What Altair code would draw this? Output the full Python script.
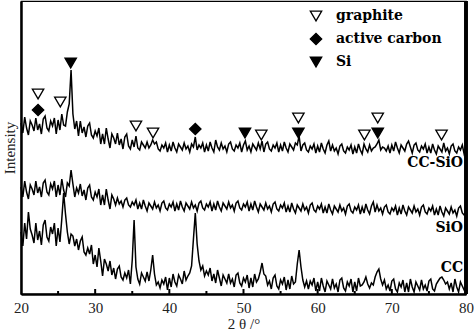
import altair as alt
import pandas as pd

# 2-theta grid: 20.00 .. 80.00, step 0.25
two_theta = [20 + 0.25 * i for i in range(241)]

# Intensity (arbitrary units, curves stacked)
cc_sio = [
    171, 161, 177, 166,  159, 173, 169, 163,  176, 164, 170, 160,  175, 178, 166, 163,
    173, 168, 176, 160,  174, 164, 180, 169,  168, 182, 190, 224,  180, 165, 173, 158,
    173, 161, 167, 157,  168, 171, 159, 156,  163, 158, 166, 150,  160, 150, 166, 155,
    146, 160, 156, 150,  161, 149, 155, 145,  157, 160, 148, 145,  154, 147, 158, 146,
    144, 152, 149, 146,  152, 146, 149, 154,  150, 152, 145, 143,  149, 146, 151, 142,
    149, 143, 152, 146,  142, 150, 147, 144,  151, 145, 148, 142,  150, 147, 157, 144,
    149, 146, 151, 142,  149, 143, 152, 146,  142, 154, 147, 144,  151, 145, 148, 142,
    150, 152, 145, 143,  149, 146, 151, 142,  149, 153, 144, 148,  142, 150, 147, 144,
    151, 145, 153, 142,  150, 152, 145, 143,  149, 146, 151, 142,  149, 143, 152, 146,
    142, 150, 147, 144,  151, 149, 158, 143,  149, 151, 144, 142,  148, 145, 150, 141,
    148, 142, 151, 145,  141, 149, 153, 143,  149, 143, 146, 140,  148, 150, 143, 141,
    147, 144, 149, 140,  147, 141, 150, 144,  140, 150, 145, 142,  149, 143, 146, 147,
    150, 154, 144, 147,  146, 143, 148, 141,  149, 143, 152, 146,  141, 149, 146, 143,
    150, 153, 147, 141,  149, 151, 144, 142,  148, 145, 150, 141,  147, 141, 150, 144,
    140, 148, 145, 142,  151, 143, 146, 140,  148, 150, 143, 141,  147, 144, 149, 140,
    144,
]
sio = [
    107, 97, 113, 102,  95, 109, 105, 99,  113, 101, 107, 97,  111, 114, 102, 99,
    110, 105, 113, 97,  109, 99, 115, 104,  97, 111, 108, 124,  110, 97, 106, 101,
    110, 98, 104, 94,  106, 109, 97, 94,  102, 97, 105, 89,  99, 89, 105, 94,
    85, 99, 95, 89,  96, 90, 93, 87,  94, 96, 89, 87,  92, 89, 94, 85,
    91, 85, 94, 88,  83, 91, 88, 85,  92, 86, 89, 83,  91, 93, 86, 84,
    90, 87, 92, 83,  90, 84, 93, 87,  83, 91, 88, 85,  92, 86, 89, 83,
    91, 93, 86, 84,  90, 87, 92, 83,  90, 84, 93, 87,  83, 91, 88, 85,
    92, 86, 89, 83,  91, 93, 86, 84,  90, 87, 92, 83,  90, 84, 93, 87,
    82, 90, 87, 84,  91, 85, 88, 82,  90, 92, 85, 83,  89, 86, 91, 82,
    88, 82, 91, 85,  81, 89, 86, 83,  90, 84, 87, 81,  89, 91, 84, 82,
    88, 85, 90, 81,  87, 81, 90, 84,  80, 88, 85, 82,  89, 83, 86, 80,
    88, 90, 83, 81,  87, 84, 89, 80,  87, 81, 90, 84,  80, 88, 92, 82,
    89, 83, 86, 80,  87, 89, 82, 80,  86, 83, 88, 79,  86, 80, 89, 83,
    79, 87, 84, 81,  88, 82, 85, 79,  87, 89, 82, 80,  86, 83, 88, 79,
    85, 79, 88, 82,  78, 86, 83, 80,  87, 81, 84, 78,  86, 88, 81, 79,
    82,
]
cc = [
    62, 48, 71, 55,  82, 65, 59, 51,  71, 54, 63, 49,  69, 74, 57, 53,
    67, 60, 71, 48,  66, 52, 75, 101,  80, 62, 50, 60,  58, 48, 55, 44,
    53, 57, 42, 39,  46, 40, 49, 30,  39, 27, 46, 33,  18, 35, 30, 23,
    33, 19, 26, 15,  25, 28, 17, 14,  21, 16, 24, 10,  34, 74, 27, 15,
    10, 21, 17, 13,  22, 13, 24, 39,  20, 9, 12, 6,  14, 10, 17, 4,
    16, 7, 20, 12,  8, 19, 15, 10,  23, 14, 18, 21,  28, 55, 81, 50,
    33, 24, 28, 18,  23, 19, 26, 13,  20, 11, 24, 16,  8, 19, 15, 11,
    20, 11, 15, 7,  19, 21, 11, 8,  16, 12, 19, 6,  16, 7, 20, 12,
    15, 22, 31, 20,  18, 9, 13, 5,  16, 19, 8, 5,  14, 10, 17, 4,
    14, 5, 18, 10,  12, 30, 44, 27,  14, 7, 13, 5,  13, 9, 16, 3,
    12, 3, 16, 8,  2, 13, 9, 5,  15, 6, 10, 2,  14, 16, 6, 3,
    12, 8, 15, 2,  12, 3, 16, 8,  9, 12, 17, 10,  6, 11, 9, 17,
    22, 25, 15, 9,  14, 5, 9, 3,  13, 15, 5, 2,  11, 7, 14, 2,
    11, 2, 15, 7,  2, 12, 8, 4,  14, 5, 9, 3,  13, 15, 5, 3,
    10, 13, 16, 17,  14, 10, 12, 5,  11, 2, 15, 7,  2, 12, 8, 4,
    8,
]

# phase markers
marker_phase = ["graphite", "active carbon", "graphite", "Si", "graphite", "graphite",
                "active carbon", "Si", "graphite", "graphite", "Si", "graphite", "Si",
                "graphite", "graphite"]
marker_theta = [22.3, 22.3, 25.3, 26.7, 35.5, 37.8, 43.5, 50.2, 52.4, 57.4, 57.4,
                66.3, 68.1, 68.1, 76.7]
marker_y = [200, 184, 192, 231, 168, 161, 165, 161, 159, 176, 161, 159, 161, 176, 159]

curve_names = ["CC-SiO", "SiO", "CC"]
curve_label_theta = [79.6, 79.6, 79.6]
curve_label_y = [131, 66, 26]

major_ticks = [30, 40, 50, 60, 70]
minor_ticks = [25, 35, 45, 55, 65, 75]
x_labels = [20, 30, 40, 50, 60, 70, 80]

rows = []
for name, ys in zip(curve_names, [cc_sio, sio, cc]):
    for t, v in zip(two_theta, ys):
        rows.append({"series": name, "theta": t, "I": v})
lines_df = pd.DataFrame(rows)
markers_df = pd.DataFrame({"phase": marker_phase, "theta": marker_theta, "I": marker_y})
labels_df = pd.DataFrame({"name": curve_names, "theta": curve_label_theta, "I": curve_label_y})
major_df = pd.DataFrame({"theta": major_ticks})
minor_df = pd.DataFrame({"theta": minor_ticks})

SERIF = "Liberation Serif"

xscale = alt.Scale(domain=[20, 80], nice=False, zero=False)
yscale = alt.Scale(domain=[0, 293], nice=False, zero=True)

xaxis = alt.Axis(values=x_labels, ticks=False, grid=False, labelFont=SERIF,
                 labelFontSize=15, labelColor="#222", labelPadding=6, title="2 θ /°",
                 titleFont=SERIF, titleFontSize=15, titleFontWeight="normal",
                 titleColor="#222", titlePadding=1, domainColor="black", domainWidth=2.5,
                 labelFlush=False)
yaxis = alt.Axis(labels=False, ticks=False, grid=False, title="Intensity",
                 titleFont=SERIF, titleFontSize=15, titleFontWeight="normal",
                 titleColor="#222", titlePadding=4, domainColor="black", domainWidth=2.5)

lines = alt.Chart(lines_df).mark_line(color="black", strokeWidth=1.5).encode(
    x=alt.X("theta:Q", scale=xscale, axis=xaxis),
    y=alt.Y("I:Q", scale=yscale, axis=yaxis),
    detail="series:N",
)

phase_order = ["graphite", "active carbon", "Si"]
legend = alt.Legend(orient="none", legendX=288, legendY=8, title=None,
                    labelFont="DejaVu Serif", labelFontWeight="bold", labelFontSize=14,
                    labelColor="black", symbolSize=130, symbolStrokeWidth=1.3,
                    rowPadding=6, labelOffset=13)
markers = alt.Chart(markers_df).mark_point(filled=True, strokeWidth=1.3,
                                           size=130, opacity=1).encode(
    x="theta:Q",
    y="I:Q",
    shape=alt.Shape("phase:N", scale=alt.Scale(domain=phase_order,
                    range=["triangle-down", "diamond", "triangle-down"]), legend=legend),
    fill=alt.Fill("phase:N", scale=alt.Scale(domain=phase_order,
                  range=["white", "black", "black"]), legend=legend),
    stroke=alt.Stroke("phase:N", scale=alt.Scale(domain=phase_order,
                      range=["black", "black", "black"]), legend=legend),
)

labels = alt.Chart(labels_df).mark_text(align="right", baseline="middle",
                                        font="DejaVu Serif", fontWeight="bold",
                                        fontSize=14, color="black").encode(
    x="theta:Q", y="I:Q", text="name:N")

major = alt.Chart(major_df).mark_rule(color="black", strokeWidth=2).encode(
    x="theta:Q", y=alt.value(293), y2=alt.value(288))
minor = alt.Chart(minor_df).mark_rule(color="black", strokeWidth=2).encode(
    x="theta:Q", y=alt.value(293), y2=alt.value(290))
right_border = alt.Chart(major_df).mark_rule(color="black", strokeWidth=3).encode(
    x=alt.value(445), y=alt.value(0), y2=alt.value(293))

chart = alt.layer(lines, markers, labels, major, minor, right_border).properties(
    width=445, height=293,
    padding={"left": 21, "top": 1, "right": 8, "bottom": 39},
    autosize=alt.AutoSizeParams(type="none"),
    background="white",
).configure_view(stroke="black", strokeWidth=1.2)

chart.save("out.html", embed_options={"renderer": "svg", "actions": False})
